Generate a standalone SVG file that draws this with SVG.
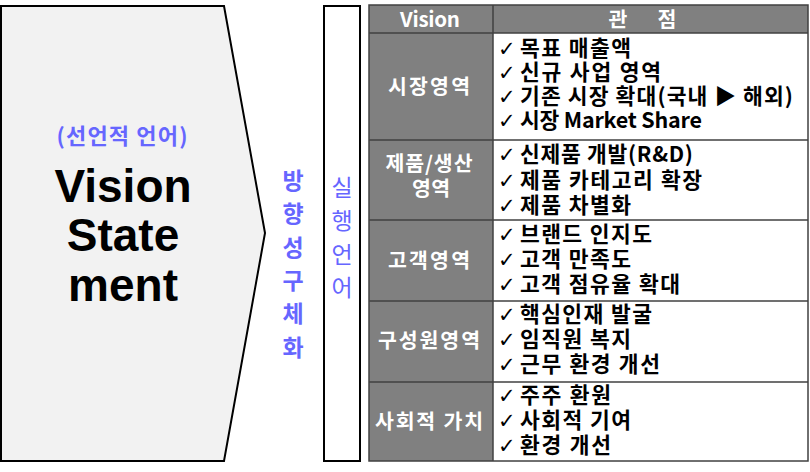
<svg xmlns="http://www.w3.org/2000/svg" width="810" height="472" viewBox="0 0 810 472">
<style>
.kr{font-family:"Noto Sans CJK KR","Malgun Gothic",sans-serif}
.blue{fill:#6666ff}
.lbl{font-family:"Noto Sans CJK KR",sans-serif;font-weight:bold;font-size:20.5px;fill:#ffffff;text-anchor:middle}
.item{font-family:"Noto Sans CJK KR",sans-serif;font-weight:bold;font-size:21.5px;fill:#000000}
.chk{font-family:"DejaVu Sans",sans-serif;font-size:21px;fill:#000000}
.gray{fill:#808080}
.grid{stroke:#404040;stroke-width:1.5;fill:none}
</style>
<rect width="810" height="472" fill="#ffffff"/>
<g id="vision-statement">
<polygon points="1,6 224,6 265,233 224,461 1,461" fill="#f2f2f2" stroke="#000000" stroke-width="2"/>
<text x="122" y="144" class="kr blue" font-size="22" font-weight="bold" text-anchor="middle" textLength="131" lengthAdjust="spacing">(선언적 언어)</text>
<text x="123" y="202" font-family="'Liberation Sans',Arial,sans-serif" font-size="46" font-weight="bold" text-anchor="middle">Vision</text>
<text x="123" y="251" font-family="'Liberation Sans',Arial,sans-serif" font-size="46" font-weight="bold" text-anchor="middle">State</text>
<text x="123" y="301" font-family="'Liberation Sans',Arial,sans-serif" font-size="46" font-weight="bold" text-anchor="middle">ment</text>
</g>
<g id="direction">
<text class="kr blue" font-size="23" font-weight="bold" text-anchor="middle">
<tspan x="293" y="189">방</tspan><tspan x="293" y="222">향</tspan><tspan x="293" y="256">성</tspan><tspan x="293" y="289">구</tspan><tspan x="293" y="322">체</tspan><tspan x="293" y="356">화</tspan>
</text>
</g>
<g id="execution-language">
<rect x="324" y="6" width="36" height="455" fill="#ffffff" stroke="#000000" stroke-width="2"/>
<text class="kr blue" font-size="23" text-anchor="middle">
<tspan x="342" y="196">실</tspan><tspan x="342" y="229">행</tspan><tspan x="342" y="263">언</tspan><tspan x="342" y="296">어</tspan>
</text>
</g>
<g id="table">
<rect x="369" y="5" width="439" height="28" class="gray"/>
<rect x="369" y="33" width="124" height="428" class="gray"/>
<rect x="493" y="33" width="315" height="428" fill="#ffffff"/>
<g class="grid">
<rect x="369" y="5" width="439" height="456"/>
<line x1="493" y1="5" x2="493" y2="461"/>
<line x1="369" y1="33" x2="808" y2="33"/>
<line x1="369" y1="140" x2="808" y2="140"/>
<line x1="369" y1="220" x2="808" y2="220"/>
<line x1="369" y1="301" x2="808" y2="301"/>
<line x1="369" y1="382" x2="808" y2="382"/>
</g>
<text x="430" y="27" class="lbl" font-size="19" textLength="60" lengthAdjust="spacing">Vision</text>
<text y="27" class="lbl" font-size="20"><tspan x="618">관</tspan><tspan x="667">점</tspan></text>
</g>
<g id="row-market">
<text x="429" y="94" class="lbl" textLength="82" lengthAdjust="spacing">시장영역</text>
<text x="498" y="56" class="chk">✓</text><text x="520" y="56" class="item" textLength="111" lengthAdjust="spacing">목표 매출액</text>
<text x="498" y="80" class="chk">✓</text><text x="520" y="80" class="item" textLength="141" lengthAdjust="spacing">신규 사업 영역</text>
<text x="498" y="104" class="chk">✓</text><text x="520" y="104" class="item" textLength="273" lengthAdjust="spacing">기존 시장 확대(국내 ▶ 해외)</text>
<text x="498" y="128" class="chk">✓</text><text x="520" y="128" class="item" textLength="182" lengthAdjust="spacing">시장 Market Share</text>
</g>
<g id="row-product">
<text x="429" y="171" class="lbl" textLength="87" lengthAdjust="spacing">제품/생산</text>
<text x="431" y="196" class="lbl" textLength="38" lengthAdjust="spacing">영역</text>
<text x="498" y="162" class="chk">✓</text><text x="520" y="162" class="item" textLength="173" lengthAdjust="spacing">신제품 개발(R&amp;D)</text>
<text x="498" y="188" class="chk">✓</text><text x="520" y="188" class="item" textLength="182" lengthAdjust="spacing">제품 카테고리 확장</text>
<text x="498" y="213" class="chk">✓</text><text x="520" y="213" class="item" textLength="111" lengthAdjust="spacing">제품 차별화</text>
</g>
<g id="row-customer">
<text x="429" y="268" class="lbl" textLength="82" lengthAdjust="spacing">고객영역</text>
<text x="498" y="242" class="chk">✓</text><text x="520" y="242" class="item" textLength="132" lengthAdjust="spacing">브랜드 인지도</text>
<text x="498" y="267" class="chk">✓</text><text x="520" y="267" class="item" textLength="111" lengthAdjust="spacing">고객 만족도</text>
<text x="498" y="292" class="chk">✓</text><text x="520" y="292" class="item" textLength="160" lengthAdjust="spacing">고객 점유율 확대</text>
</g>
<g id="row-members">
<text x="429" y="348" class="lbl" textLength="102" lengthAdjust="spacing">구성원영역</text>
<text x="498" y="322" class="chk">✓</text><text x="520" y="322" class="item" textLength="132" lengthAdjust="spacing">핵심인재 발굴</text>
<text x="498" y="347" class="chk">✓</text><text x="520" y="347" class="item" textLength="111" lengthAdjust="spacing">임직원 복지</text>
<text x="498" y="372" class="chk">✓</text><text x="520" y="372" class="item" textLength="140" lengthAdjust="spacing">근무 환경 개선</text>
</g>
<g id="row-social">
<text x="429" y="429" class="lbl" textLength="108" lengthAdjust="spacing">사회적 가치</text>
<text x="498" y="403" class="chk">✓</text><text x="520" y="403" class="item" textLength="91" lengthAdjust="spacing">주주 환원</text>
<text x="498" y="428" class="chk">✓</text><text x="520" y="428" class="item" textLength="111" lengthAdjust="spacing">사회적 기여</text>
<text x="498" y="453" class="chk">✓</text><text x="520" y="453" class="item" textLength="91" lengthAdjust="spacing">환경 개선</text>
</g>
</svg>
